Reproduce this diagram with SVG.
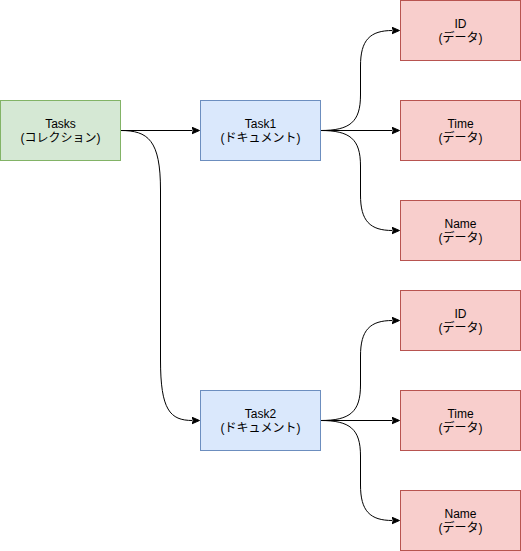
<svg xmlns="http://www.w3.org/2000/svg" width="521" height="551" viewBox="0 0 521 551">
<style>
.g{fill:#d5e8d4;stroke:#82b366}
.b{fill:#dae8fc;stroke:#6c8ebf}
.r{fill:#f8cecc;stroke:#b85450}
text{font-family:"Liberation Sans","Noto Sans CJK JP",sans-serif;font-size:12px;fill:#000;text-anchor:middle}
.e{fill:none;stroke:#000;stroke-width:1;marker-end:url(#a)}
</style>
<defs>
<marker id="a" markerWidth="10" markerHeight="10" refX="1" refY="4" orient="auto" markerUnits="userSpaceOnUse">
<path d="M0,0.5 L8,4 L0,7.5 L2,4 Z" fill="#000" stroke="#000" stroke-width="1"/>
</marker>
</defs>
<g id="connectors">
<path class="e" d="M120.5 130.5 L192.5 130.5"/>
<path class="e" d="M120.5 130.5 C148 130.5 160.5 140 160.5 190 L160.5 360 C160.5 410 170 420.5 192.5 420.5"/>
<path class="e" d="M320.5 130.5 C350 130.5 360.5 122 360.5 95 L360.5 66 C360.5 40 370 30.5 392.5 30.5"/>
<path class="e" d="M320.5 130.5 L392.5 130.5"/>
<path class="e" d="M320.5 130.5 C350 130.5 360.5 139 360.5 166 L360.5 195 C360.5 221 370 230.5 392.5 230.5"/>
<path class="e" d="M320.5 420.5 C350 420.5 360.5 412 360.5 385 L360.5 356 C360.5 330 370 320.5 392.5 320.5"/>
<path class="e" d="M320.5 420.5 L392.5 420.5"/>
<path class="e" d="M320.5 420.5 C350 420.5 360.5 429 360.5 456 L360.5 485 C360.5 511 370 520.5 392.5 520.5"/>
</g>
<g id="tasks"><rect class="g" x="0.5" y="100.5" width="120" height="60"/><text x="60.5" y="128">Tasks</text><text x="60.5" y="142">(コレクション)</text></g>
<g id="task1"><rect class="b" x="200.5" y="100.5" width="120" height="60"/><text x="260.5" y="128">Task1</text><text x="260.5" y="142">(ドキュメント)</text></g>
<g id="task2"><rect class="b" x="200.5" y="390.5" width="120" height="60"/><text x="260.5" y="418">Task2</text><text x="260.5" y="432">(ドキュメント)</text></g>
<g id="id1"><rect class="r" x="400.5" y="0.5" width="120" height="60"/><text x="460.5" y="28">ID</text><text x="460.5" y="42">(データ)</text></g>
<g id="time1"><rect class="r" x="400.5" y="100.5" width="120" height="60"/><text x="460.5" y="128">Time</text><text x="460.5" y="142">(データ)</text></g>
<g id="name1"><rect class="r" x="400.5" y="200.5" width="120" height="60"/><text x="460.5" y="228">Name</text><text x="460.5" y="242">(データ)</text></g>
<g id="id2"><rect class="r" x="400.5" y="290.5" width="120" height="60"/><text x="460.5" y="318">ID</text><text x="460.5" y="332">(データ)</text></g>
<g id="time2"><rect class="r" x="400.5" y="390.5" width="120" height="60"/><text x="460.5" y="418">Time</text><text x="460.5" y="432">(データ)</text></g>
<g id="name2"><rect class="r" x="400.5" y="490.5" width="120" height="60"/><text x="460.5" y="518">Name</text><text x="460.5" y="532">(データ)</text></g>
</svg>
